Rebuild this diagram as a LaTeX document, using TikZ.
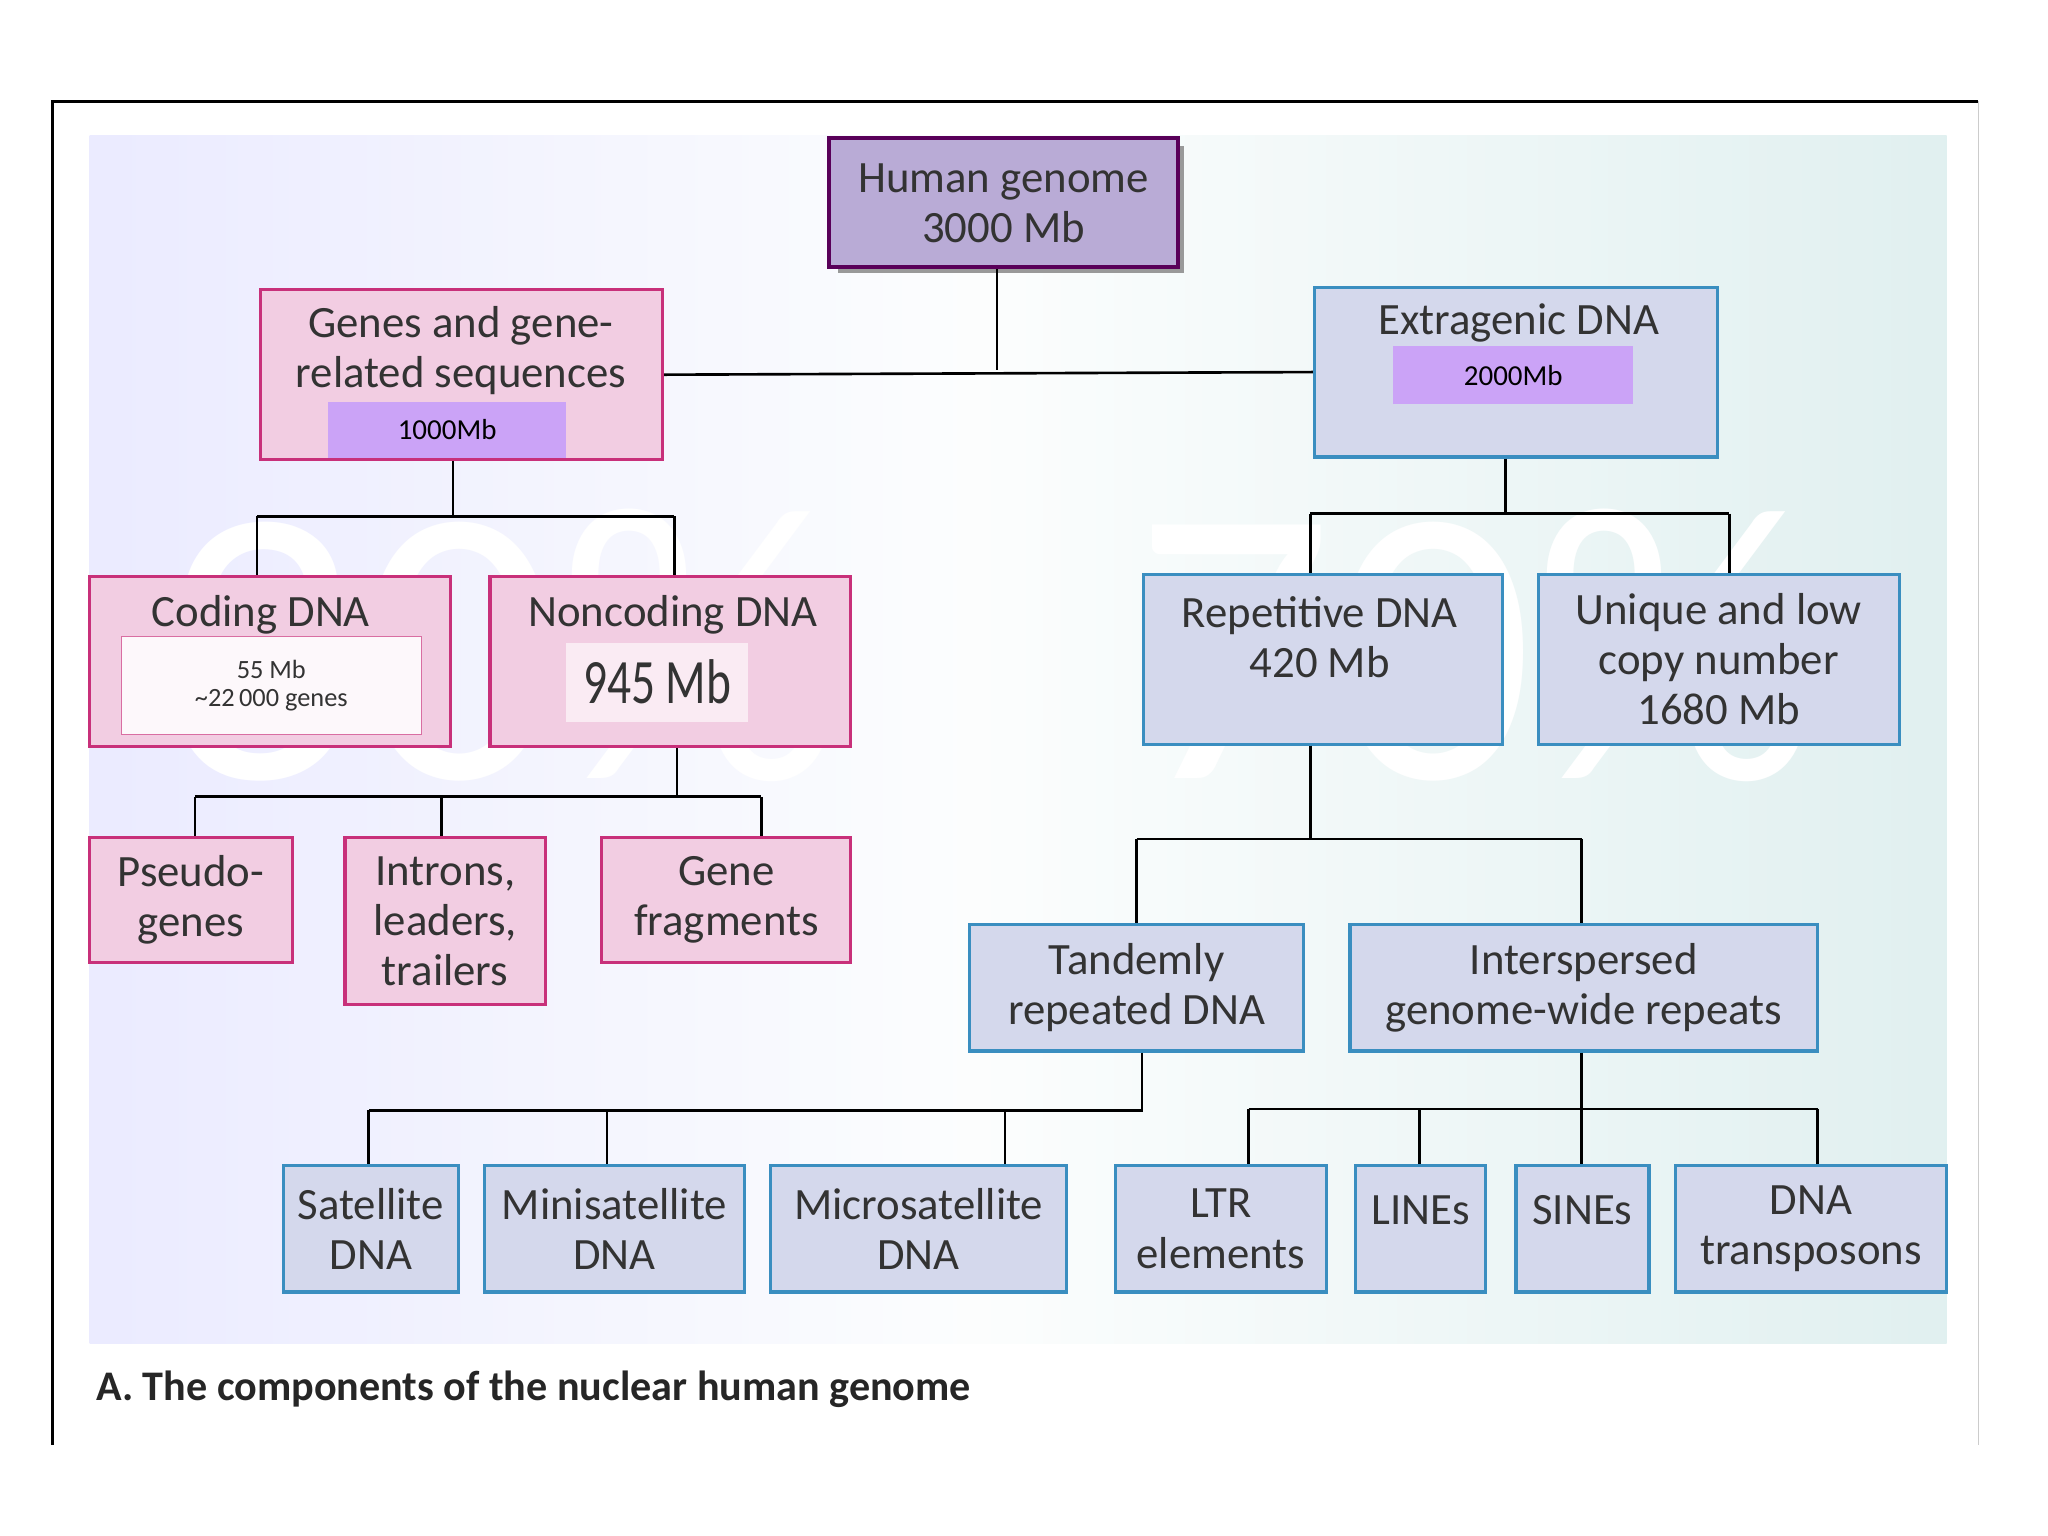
\documentclass[tikz,border=0pt]{standalone}
\usepackage{fontspec}
\setmainfont{Carlito}
\newfontfamily\condf[FakeStretch=0.75]{Carlito}
\definecolor{pkf}{HTML}{F2CDE2}
\definecolor{pkd}{HTML}{C8307A}
\definecolor{blf}{HTML}{D4D8EC}
\definecolor{bld}{HTML}{3A8EC0}
\definecolor{vio}{HTML}{CBA3F7}
\definecolor{hgf}{HTML}{B9ABD6}
\begin{document}
\begin{tikzpicture}[x=0.5pt,y=-0.5pt,
  pk/.style={draw=pkd,line width=1.2pt,fill=pkf,font=\fontsize{17}{19}\selectfont,text=black!80,align=center,inner sep=0},
  bl/.style={draw=bld,line width=1.2pt,fill=blf,font=\fontsize{17}{19}\selectfont,text=black!80,align=center,inner sep=0},
  tx/.style={font=\fontsize{17}{19}\selectfont,text=black!80,align=center,inner sep=0},
  ln/.style={line width=1pt,black}]
\useasboundingbox (0,0) rectangle (1555,1166);
\fill[white] (0,0) rectangle (1555,1166);
\shade[left color=blue!8,right color=white!80!teal!6] (68,103) rectangle (740,1020);
\shade[left color=white!80!teal!6,right color=teal!12] (740,103) rectangle (1478,1020);
\node[white,font=\fontsize{150}{150}\selectfont] at (380,490) {30\%};
\node[white,font=\fontsize{150}{150}\selectfont] at (1120,490) {70\%};
\draw[line width=1pt] (40,1097) -- (40,77) -- (1502,77);
\draw[gray!40] (1502,77) -- (1502,1097);
% top
\fill[black!40] (636,111) rectangle (899,207);
\node[draw=violet!70!black,line width=1.5pt,fill=hgf,minimum width=132.5pt,minimum height=49pt,font=\fontsize{17}{19}\selectfont,text=black!80,align=center,inner sep=0] (hg) at (762,154) {Human genome\\3000 Mb};
\node[pk,minimum width=152.5pt,minimum height=64.5pt] (gn) at (350.5,284.5) {};
\node[tx] (gnt) at (350,266) {Genes and gene-\\related sequences};
\node[fill=vio,minimum width=90.5pt,minimum height=21.5pt,inner sep=0,font=\fontsize{11}{12}\selectfont] (gnm) at (339.5,326.5) {1000Mb};
\node[bl,minimum width=153pt,minimum height=64.5pt] (ex) at (1151,282.5) {};
\node[tx] (ext) at (1153,245) {Extragenic DNA};
\node[fill=vio,minimum width=91pt,minimum height=22pt,inner sep=0,font=\fontsize{11}{12}\selectfont] (exm) at (1149,285) {2000Mb};
% level 3
\node[pk,minimum width=137pt,minimum height=64.5pt] (cd) at (205,502.5) {};
\node[tx] (cdt) at (198,467) {Coding DNA};
\node[draw=pkd!70,fill=white!85!pkf,minimum width=114pt,minimum height=37.5pt,inner sep=0,align=center,font=\fontsize{10}{10.5}\selectfont,text=black!80] (cdm) at (206,520.5) {55 Mb\\\textasciitilde 22\,000 genes};
\node[pk,minimum width=137pt,minimum height=64.5pt] (nc) at (509,502.5) {};
\node[tx] (nct) at (511,467) {Noncoding DNA};
\node[fill=white!60!pkf,minimum width=69pt,minimum height=30pt,inner sep=0,font=\condf\fontsize{24}{26}\selectfont,text=black!80] (ncm) at (499,518) {945 Mb};
\node[bl,minimum width=136.5pt,minimum height=64.5pt] (rp) at (1004.5,500.5) {};
\node[tx] (rpt) at (1002,484) {Repetitive DNA\\420 Mb};
\node[bl,minimum width=137pt,minimum height=64.5pt] (uq) at (1305,500.5) {Unique and low\\copy number\\1680 Mb};
% level 4
\node[pk,minimum width=77pt,minimum height=47.5pt] (ps) at (145,683.5) {Pseudo-\\genes};
\node[pk,minimum width=76pt,minimum height=63.5pt] (in) at (338,699.5) {Introns,\\leaders,\\trailers};
\node[pk,minimum width=94.5pt,minimum height=47.5pt] (gf) at (551.5,683.5) {Gene\\fragments};
\node[bl,minimum width=127pt,minimum height=48pt] (td) at (863,750) {Tandemly\\repeated DNA};
\node[bl,minimum width=177.5pt,minimum height=48pt] (is) at (1202.5,750) {Interspersed\\genome-wide repeats};
% level 5
\node[bl,minimum width=66.5pt,minimum height=48pt] (sa) at (281.5,933) {Satellite\\DNA};
\node[bl,minimum width=98.5pt,minimum height=48pt] (mi) at (466.5,933) {Minisatellite\\DNA};
\node[bl,minimum width=112.5pt,minimum height=48pt] (mc) at (697.5,933) {Microsatellite\\DNA};
\node[bl,minimum width=80pt,minimum height=48pt] (lt) at (927,933) {LTR\\elements};
\node[bl,minimum width=49.5pt,minimum height=48pt] (li) at (1078.5,933) {};
\node[tx] (lit) at (1078.5,919) {LINEs};
\node[bl,minimum width=50.5pt,minimum height=48pt] (si) at (1201.5,933) {};
\node[tx] (sit) at (1201.5,919) {SINEs};
\node[bl,minimum width=103pt,minimum height=48pt] (dt) at (1375,933) {DNA\\transposons};
% connectors
\draw[ln] (hg.south -| 757,0) -- (757,281);
\draw[ln] (gn.east) -- (ex.west);
\draw[ln] (gn.south -| 344,0) -- (344,392) (195,392) -- (512,392);
\draw[ln] (195,392) -- (cd.north -| 195,0) (512,392) -- (nc.north -| 512,0);
\draw[ln] (ex.south -| 1143,0) -- (1143,390) (995,390) -- (1313,390);
\draw[ln] (995,390) -- (rp.north -| 995,0) (1313,390) -- (uq.north -| 1313,0);
\draw[ln] (nc.south -| 514,0) -- (514,605) (148,605) -- (578,605);
\draw[ln] (148,605) -- (ps.north -| 148,0) (335,605) -- (in.north -| 335,0) (578,605) -- (gf.north -| 578,0);
\draw[ln] (rp.south -| 995,0) -- (995,637) (863,637) -- (1201,637);
\draw[ln] (863,637) -- (td.north -| 863,0) (1201,637) -- (is.north -| 1201,0);
\draw[ln] (td.south -| 867,0) -- (867,843) -- (280,843);
\draw[ln] (280,843) -- (sa.north -| 280,0) (461,843) -- (mi.north -| 461,0) (763,843) -- (mc.north -| 763,0);
\draw[ln] (is.south -| 1201,0) -- (1201,842) (948,842) -- (1380,842);
\draw[ln] (948,842) -- (lt.north -| 948,0) (1078,842) -- (li.north -| 1078,0) (1201,842) -- (si.north -| 1201,0) (1380,842) -- (dt.north -| 1380,0);
\node[anchor=west,font=\bfseries\fontsize{16}{18}\selectfont,text=black!85] (cap) at (66,1055) {A. The components of the nuclear human genome};
\end{tikzpicture}
\end{document}
